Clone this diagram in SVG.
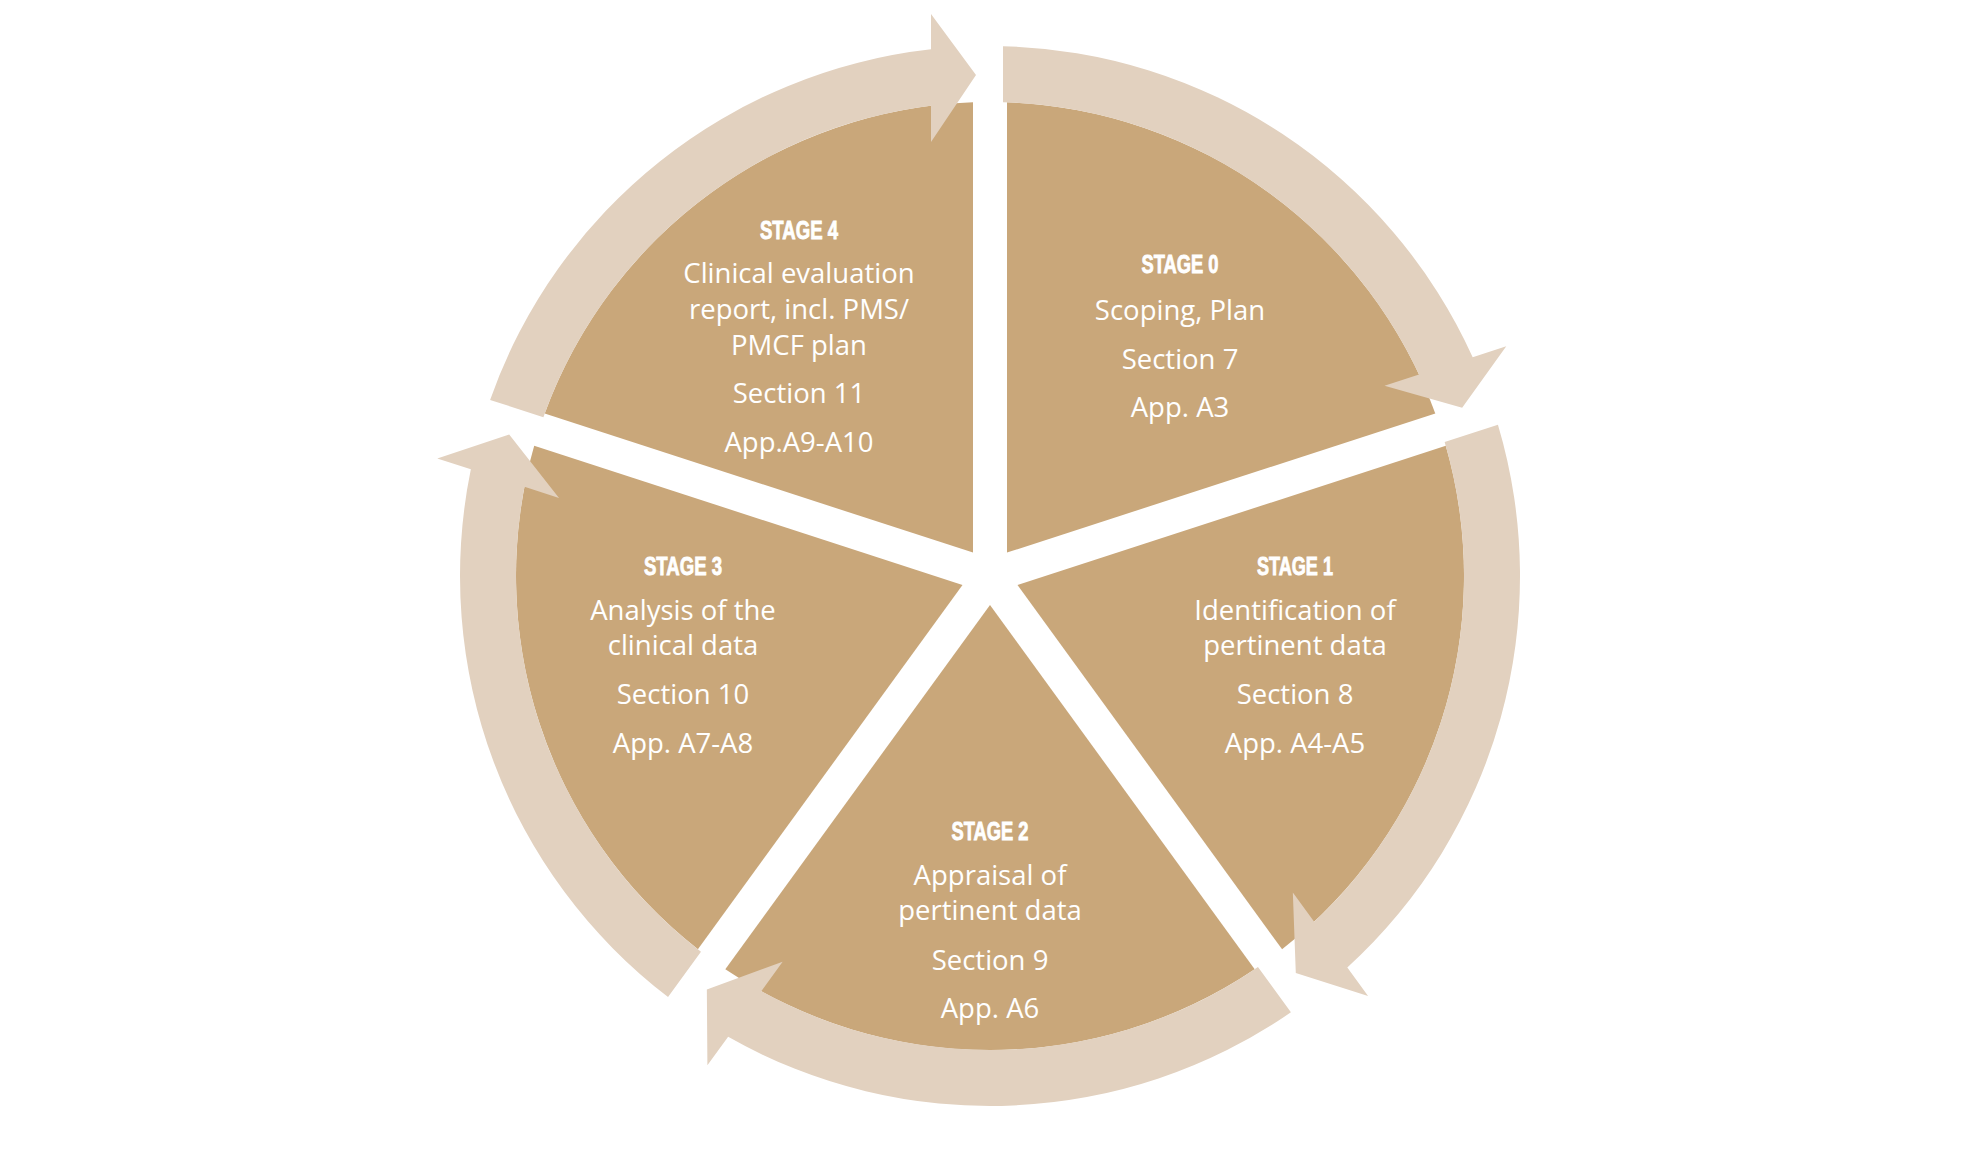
<svg xmlns="http://www.w3.org/2000/svg" xmlns:xlink="http://www.w3.org/1999/xlink" width="1980" height="1155" viewBox="0 0 1980 1155">
<style>
.wedge{fill:#C9A77A;}
.ring{fill:#E2D1BF;}
.title{font-family:"Liberation Sans",Arial,sans-serif;font-weight:bold;font-size:26.5px;fill:#FFFFFF;stroke:#FFFFFF;stroke-width:0.9;text-anchor:middle;}
.body{font-family:"Open Sans","Liberation Sans",sans-serif;font-size:27.5px;fill:#FFFFFF;text-anchor:middle;}
</style>
<defs>
<path id="arrow" d="M -446.6 -158.8 L -499.9 -176.1 A 530 530 0 0 1 -59 -526.7 L -59 -562 L -14 -501 L -59 -434 L -59 -470.3 A 474 474 0 0 0 -446.6 -158.8 Z"/>
</defs>
<rect width="1980" height="1155" fill="#FFFFFF"/>
<g id="stage0">
<path class="wedge" d="M 1007 552.6 L 1007 102.3 A 474 474 0 0 1 1435.3 413.5 Z"/>
<text class="title" x="1180" y="273" textLength="77" lengthAdjust="spacingAndGlyphs">STAGE 0</text>
<text class="body" x="1180" y="320">Scoping, Plan</text>
<text class="body" x="1180" y="369">Section 7</text>
<text class="body" x="1180" y="417">App. A3</text>
</g>
<g id="stage1">
<path class="wedge" d="M 1017.5 584.9 L 1445.8 445.8 A 474 474 0 0 1 1282.1 949.3 Z"/>
<text class="title" x="1295" y="575" textLength="76" lengthAdjust="spacingAndGlyphs">STAGE 1</text>
<text class="body" x="1295" y="620">Identification of</text>
<text class="body" x="1295" y="655">pertinent data</text>
<text class="body" x="1295" y="704">Section 8</text>
<text class="body" x="1295" y="753">App. A4-A5</text>
</g>
<g id="stage2">
<path class="wedge" d="M 990 604.9 L 1254.7 969.3 A 474 474 0 0 1 725.3 969.3 Z"/>
<text class="title" x="990" y="840" textLength="77" lengthAdjust="spacingAndGlyphs">STAGE 2</text>
<text class="body" x="990" y="885">Appraisal of</text>
<text class="body" x="990" y="920">pertinent data</text>
<text class="body" x="990" y="970">Section 9</text>
<text class="body" x="990" y="1018">App. A6</text>
</g>
<g id="stage3">
<path class="wedge" d="M 962.5 584.9 L 697.9 949.3 A 474 474 0 0 1 534.2 445.8 Z"/>
<text class="title" x="683" y="575" textLength="78" lengthAdjust="spacingAndGlyphs">STAGE 3</text>
<text class="body" x="683" y="620">Analysis of the</text>
<text class="body" x="683" y="655">clinical data</text>
<text class="body" x="683" y="704">Section 10</text>
<text class="body" x="683" y="753">App. A7-A8</text>
</g>
<g id="stage4">
<path class="wedge" d="M 973 552.6 L 544.7 413.5 A 474 474 0 0 1 973 102.3 Z"/>
<text class="title" x="799" y="239" textLength="78" lengthAdjust="spacingAndGlyphs">STAGE 4</text>
<text class="body" x="799" y="283">Clinical evaluation</text>
<text class="body" x="799" y="319">report, incl. PMS/</text>
<text class="body" x="799" y="355">PMCF plan</text>
<text class="body" x="799" y="403">Section 11</text>
<text class="body" x="799" y="452">App.A9-A10</text>
</g>
<g id="connectors">
<use class="ring" xlink:href="#arrow" href="#arrow" transform="translate(990 576)"/>
<use class="ring" xlink:href="#arrow" href="#arrow" transform="translate(990 576) rotate(72)"/>
<use class="ring" xlink:href="#arrow" href="#arrow" transform="translate(990 576) rotate(144)"/>
<use class="ring" xlink:href="#arrow" href="#arrow" transform="translate(990 576) rotate(216)"/>
<use class="ring" xlink:href="#arrow" href="#arrow" transform="translate(990 576) rotate(288)"/>
</g>
</svg>
